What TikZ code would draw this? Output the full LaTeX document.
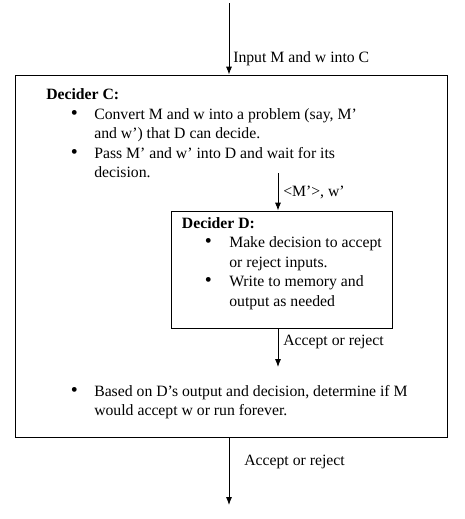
\documentclass[tikz,border=0pt]{standalone}
\usepackage{fontspec}
\setmainfont{Liberation Serif}
\usetikzlibrary{arrows.meta}
\begin{document}
\begin{tikzpicture}[x=0.75pt,y=-0.75pt,
  txt/.style={anchor=base west,inner sep=0pt,font=\fontsize{11.8}{14.6}\selectfont},
  bul/.style={anchor=base,inner sep=0pt,font=\fontsize{15}{14.6}\selectfont},
  box/.style={draw,line width=0.7pt,inner sep=0pt},
  arr/.style={line width=0.7pt,-{Latex[length=6pt,width=4.6pt]}}]
\useasboundingbox (0,0) rectangle (465,519);
% boxes
\node[box,minimum width=324.5pt,minimum height=271.5pt] (C) at (231.35,256) {};
\node[box,minimum width=165.2pt,minimum height=87.75pt] (D) at (281.85,269.5) {};
% coordinates
\coordinate (inC) at (229,3);
\coordinate (outC) at (229,505);
\coordinate (inD) at (278,173);
\coordinate (outD) at (278,367);
% connectors
\draw[arr] (inC) -- (C.north -| inC);
\draw[arr] (C.south -| inC) -- (outC);
\draw[arr] (inD) -- (D.north -| inD);
\draw[arr] (D.south -| inD) -- (outD);
% labels
\node[txt] (linC) at (233,62.7) {Input M and w into C};
\node[txt] (lmw) at (283,196) {<M’>, w’};
\node[txt] (lacc1) at (283,345) {Accept or reject};
\node[txt] (lacc2) at (244,465) {Accept or reject};
% decider C text
\node[txt] (hC) at (46,99) {\textbf{Decider C:}};
\node[bul] (bC1) at (74.5,119) {\textbullet};
\node[txt] (tC1) at (94,119) {\parbox[t]{300pt}{Convert M and w into a problem (say, M’\\and w’) that D can decide.}};
\node[bul] (bC2) at (74.5,158) {\textbullet};
\node[txt] (tC2) at (94,158) {\parbox[t]{300pt}{Pass M’ and w’ into D and wait for its\\decision.}};
\node[bul] (bC3) at (74.5,396) {\textbullet};
\node[txt] (tC3) at (94,396) {\parbox[t]{300pt}{Based on D’s output and decision, determine if M\\would accept w or run forever.}};
% decider D text
\node[txt] (hD) at (181.7,228) {\textbf{Decider D:}};
\node[bul] (bD1) at (208.5,247.7) {\textbullet};
\node[txt] (tD1) at (229,247.7) {\parbox[t]{160pt}{Make decision to accept\\or reject inputs.}};
\node[bul] (bD2) at (208.5,286.7) {\textbullet};
\node[txt] (tD2) at (229,286.7) {\parbox[t]{160pt}{Write to memory and\\output as needed}};
\end{tikzpicture}
\end{document}
